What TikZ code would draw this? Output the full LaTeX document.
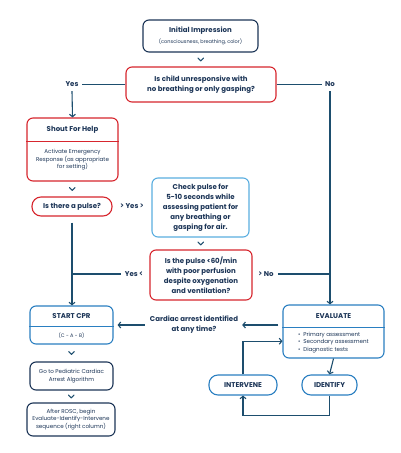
\documentclass[tikz,border=0pt]{standalone}
\usepackage{fontspec}
\setmainfont{Poppins}
\newfontfamily\djv{DejaVu Sans}
\usetikzlibrary{arrows.meta,calc}
\definecolor{navy}{HTML}{1C3557}
\definecolor{lineblue}{HTML}{1D4E6E}
\definecolor{redb}{HTML}{D7262E}
\definecolor{lblue}{HTML}{5AAEE0}
\definecolor{mblue}{HTML}{2A7FC1}
\newcommand{\hd}{\fontsize{7}{10}\selectfont\bfseries}
\newcommand{\sm}{\fontsize{5}{6.5}\selectfont}
\newcommand{\md}{\fontsize{5.6}{7.4}\selectfont}
\newcommand{\rch}{{\djv\bfseries\fontsize{9.5}{10}\selectfont ›}}
\newcommand{\lch}{{\djv\bfseries\fontsize{9.5}{10}\selectfont ‹}}
\begin{document}
\begin{tikzpicture}[x=1pt,y=-1pt,
  box/.style={draw, rounded corners=6pt, line width=1.1pt, inner sep=0pt, align=center, text=navy},
  navyb/.style={box, draw=navy},
  redbx/.style={box, draw=redb},
  lblueb/.style={box, draw=lblue},
  mblueb/.style={box, draw=mblue},
  pill/.style={box, draw=mblue, rounded corners=9pt},
  lbl/.style={text=navy, inner sep=1pt, align=center},
  conn/.style={draw=lineblue, line width=1.1pt},
  arr/.style={conn, -{Straight Barb[length=2.5pt,width=6pt,line width=1.1pt]}},
  chev/.style={draw=lineblue, line width=1.1pt, line cap=round, line join=round},
  divl/.style={line width=1pt}
]
\newcommand{\chevat}[1]{\draw[chev] #1 ++(-2.8,-1.4) -- ++(2.8,2.8) -- ++(2.8,-2.8);}
\useasboundingbox[fill=white] (0,0) rectangle (400,453);

% nodes
\node[navyb, minimum width=115pt, minimum height=32pt] (init) at (200.5,36)
  {{\hd Initial Impression}\\[-1pt]{\sm (consciousness, breathing, color)}};
\node[redbx, font=\hd, minimum width=150pt, minimum height=35pt] (q1) at (201,84.5)
  {Is child unresponsive with\\no breathing or only gasping?};
\node[lbl, font=\hd] (yes1) at (72,84.5) {Yes};
\node[lbl, font=\hd] (no1) at (330,84.5) {No};

\node[redbx, minimum width=91pt, minimum height=63pt] (shout) at (72.5,149.5) {};
\node[lbl, font=\hd] (shoutH) at (72.5,129.5) {Shout For Help};
\node[lbl, font=\md] (shoutB) at (72.5,160) {Activate Emergency\\Response (as appropriate\\for setting)};
\draw[redb, divl] (shout.west |- 0,141) -- (shout.east |- 0,141);

\node[redbx, font=\hd, rounded corners=9pt, minimum width=80pt, minimum height=19pt] (pulse) at (72,206.5) {Is there a pulse?};
\node[lbl, font=\hd] (yesp) at (132,206) {\rch\ Yes \rch};
\node[lblueb, font=\hd, minimum width=97pt, minimum height=59pt] (check) at (200.5,207.5)
  {Check pulse for\\5-10 seconds while\\assessing patient for\\any breathing or\\gasping for air.};

\node[redbx, font=\hd, minimum width=102pt, minimum height=50pt] (q2) at (201,275)
  {Is the pulse <60/min\\with poor perfusion\\despite oxygenation\\and ventilation?};
\node[lbl, font=\hd] (yes2) at (134,274) {Yes \lch};
\node[lbl, font=\hd] (no2) at (266,274) {\rch\ No};

\node[mblueb, minimum width=83pt, minimum height=38pt] (cpr) at (71.5,325) {};
\node[lbl, font=\hd] (cprH) at (71.5,316) {START CPR};
\node[lbl, font=\sm] (cprB) at (71.5,335.5) {(C - A - B)};
\draw[mblue, divl] (cpr.west |- 0,326.5) -- (cpr.east |- 0,326.5);

\node[navyb, font=\md, minimum width=83pt, minimum height=28pt] (goto) at (71.5,376)
  {Go to Pediatric Cardiac\\Arrest Algorithm};
\node[navyb, font=\md, minimum width=88pt, minimum height=33pt] (rosc) at (71,419.5)
  {After ROSC, begin\\Evaluate-Identify-Intervene\\sequence (right column)};

\node[lbl, font=\hd] (card) at (194,325) {Cardiac arrest identified\\at any time?};

\node[mblueb, minimum width=101pt, minimum height=53pt] (eval) at (333.5,331.5) {};
\node[lbl, font=\hd] (evalH) at (333.5,316) {EVALUATE};
\node[lbl, font=\md, align=left] (evalB) at (333.5,342.5)
  {•\enspace Primary assessment\\•\enspace Secondary assessment\\•\enspace Diagnostic tests};
\draw[mblue, divl] (eval.west |- 0,327) -- (eval.east |- 0,327);

\node[pill, font=\hd, minimum width=68pt, minimum height=20pt] (interv) at (243,385) {INTERVENE};
\node[pill, font=\hd, minimum width=55pt, minimum height=20pt] (ident) at (329.5,385) {IDENTIFY};

% chevrons
\chevat{($(init.south)!0.5!(q1.north)$)}
\chevat{($(shout.south)!0.5!(pulse.north)$)}
\chevat{($(check.south)!0.5!(q2.north)$)}
\chevat{($(cpr.south)!0.5!(goto.north)$)}
\chevat{($(goto.south)!0.5!(rosc.north)$)}

% connectors
\draw[conn] (q1.west) -- ([xshift=2pt]yes1.east);
\draw[arr] ([yshift=-3pt]yes1.south) -- (shout.north);
\draw[conn] (q1.east) -- ([xshift=-2pt]no1.west);
\draw[arr] ([yshift=-3pt]no1.south) -- (no1.south |- eval.north);
\draw[arr] (pulse.south) ++(0,6) -- (pulse.south |- cpr.north);
\draw[conn] ([xshift=-3pt]yes2.west) -- (pulse.south |- yes2.west);
\draw[conn] ([xshift=3pt]no2.east) -- (no1.south |- no2.east);
\draw[arr] ([xshift=-4pt]eval.west |- card.east) -- ([xshift=3pt]card.east);
\draw[arr] ([xshift=-4pt]card.west) -- ([xshift=4pt]cpr.east |- card.west);
\draw[arr] (eval.south) -- (ident.north);
\draw[arr] (ident.south) -- ++(0,20) -| (interv.south);
\draw[arr] (interv.north) |- ($(eval.north west)!0.68!(eval.south west)$);
\end{tikzpicture}
\end{document}
